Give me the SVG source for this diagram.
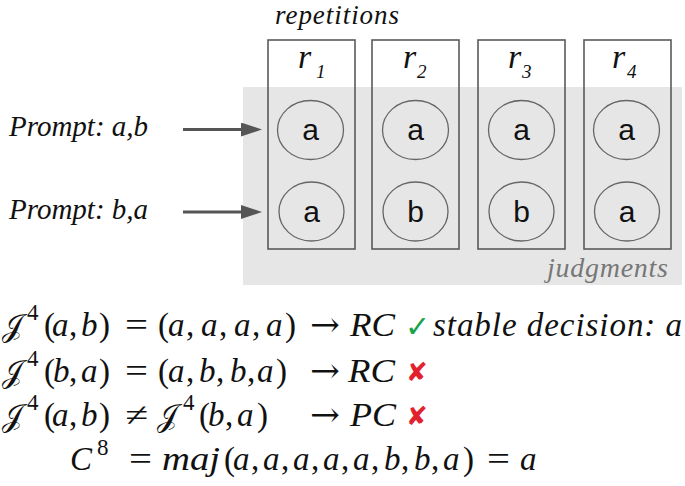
<svg xmlns="http://www.w3.org/2000/svg" width="685" height="486" viewBox="0 0 685 486">
<defs>
<style>
.lbl{font-family:"Liberation Serif","Tinos","Times New Roman","DejaVu Serif",serif;font-style:italic;fill:#111}
.box{fill:none;stroke:#5a5a5a;stroke-width:1.6}
.jd{fill:none;stroke:#666;stroke-width:1.3}
.jt{font-family:"Liberation Sans",Arial,sans-serif;font-size:30px;fill:#111;text-anchor:middle}
.conn{stroke:#555;stroke-width:3;fill:none}
.m{font-family:"Liberation Serif","Tinos","Times New Roman","DejaVu Serif",serif;font-size:33px;fill:#111}
.i{font-style:italic}
.ar{font-family:"DejaVu Serif","DejaVu Sans",serif;font-size:34px;fill:#111}
.sup{font-family:"Liberation Serif","Tinos","Times New Roman","DejaVu Serif",serif;font-size:23px;fill:#111}
.scr{font-family:"DejaVu Serif","DejaVu Sans","Noto Sans",serif;font-size:30px;fill:#111}
.ok{font-family:"DejaVu Sans",sans-serif;font-size:30px;fill:#1aa34a}
.no{font-family:"DejaVu Sans",sans-serif;font-size:26px;fill:#e3202e}
</style>
<marker id="ah" markerUnits="userSpaceOnUse" markerWidth="22" markerHeight="14" refX="1" refY="7" orient="auto">
<path d="M0,0 L21,7 L0,14 z" fill="#555"/>
</marker>
</defs>
<rect width="685" height="486" fill="#fff"/>
<rect id="judgments-band" x="243" y="87" width="439" height="198" fill="#e6e6e6"/>
<text class="lbl" x="275" y="24" font-size="27" textLength="124" lengthAdjust="spacing">repetitions</text>
<text class="lbl" x="547" y="277" font-size="28" style="fill:#777" textLength="121" lengthAdjust="spacing">judgments</text>

<g id="prompt-ab"><text class="lbl" x="9" y="136" font-size="29" textLength="139" lengthAdjust="spacing">Prompt: a,b</text></g>
<g id="prompt-ba"><text class="lbl" x="9" y="219" font-size="29" textLength="139" lengthAdjust="spacing">Prompt: b,a</text></g>

<g id="r1">
<rect class="box" x="268" y="40" width="87" height="209"/>
<text class="lbl" x="298" y="68" font-size="34">r</text><text class="lbl" x="316" y="78" font-size="19">1</text>
<ellipse class="jd" cx="310.5" cy="130" rx="33" ry="29.5"/><text class="jt" x="310.5" y="140">a</text>
<ellipse class="jd" cx="311.5" cy="211.5" rx="32.5" ry="29.5"/><text class="jt" x="311.5" y="222">a</text>
</g>
<g id="r2">
<rect class="box" x="372" y="40" width="87" height="209"/>
<text class="lbl" x="403" y="68" font-size="34">r</text><text class="lbl" x="417" y="78" font-size="19">2</text>
<ellipse class="jd" cx="415.5" cy="130" rx="33" ry="29.5"/><text class="jt" x="415.5" y="140">a</text>
<ellipse class="jd" cx="415.5" cy="211.5" rx="32.5" ry="29.5"/><text class="jt" x="415.5" y="222">b</text>
</g>
<g id="r3">
<rect class="box" x="478" y="40" width="87" height="209"/>
<text class="lbl" x="508" y="68" font-size="34">r</text><text class="lbl" x="522" y="78" font-size="19">3</text>
<ellipse class="jd" cx="521.5" cy="130" rx="33" ry="29.5"/><text class="jt" x="521.5" y="140">a</text>
<ellipse class="jd" cx="521.5" cy="211.5" rx="32.5" ry="29.5"/><text class="jt" x="521.5" y="222">b</text>
</g>
<g id="r4">
<rect class="box" x="584" y="40" width="87" height="209"/>
<text class="lbl" x="612" y="68" font-size="34">r</text><text class="lbl" x="627" y="78" font-size="19">4</text>
<ellipse class="jd" cx="626.5" cy="130" rx="33" ry="29.5"/><text class="jt" x="626.5" y="140">a</text>
<ellipse class="jd" cx="627" cy="211.5" rx="32.5" ry="29.5"/><text class="jt" x="627" y="222">a</text>
</g>

<g id="connectors">
<line class="conn" x1="183" y1="129.5" x2="242" y2="129.5" marker-end="url(#ah)"/>
<line class="conn" x1="183" y1="212" x2="242" y2="212" marker-end="url(#ah)"/>
</g>

<g id="eq1">
<text class="scr" x="2" y="336">𝒥</text>
<text class="sup" x="27" y="320">4</text>
<text class="m" y="336"><tspan x="44">(</tspan><tspan class="i" x="52">a</tspan><tspan x="69">,</tspan><tspan class="i" x="81">b</tspan><tspan x="99">)</tspan></text>
<text class="m" x="125" y="336" textLength="23" lengthAdjust="spacingAndGlyphs">=</text>
<text class="m" y="336"><tspan x="158">(</tspan><tspan class="i" x="168">a</tspan><tspan x="186">,</tspan><tspan class="i" x="201">a</tspan><tspan x="219">,</tspan><tspan class="i" x="234">a</tspan><tspan x="252">,</tspan><tspan class="i" x="266">a</tspan><tspan x="285">)</tspan></text>
<text class="ar" x="310" y="336" textLength="30" lengthAdjust="spacingAndGlyphs">→</text>
<text class="m i" x="350" y="336" textLength="45" lengthAdjust="spacingAndGlyphs">RC</text>
<text class="ok" x="405" y="337">✓</text>
<text class="m i" x="433" y="336" font-size="34" textLength="249" lengthAdjust="spacing">stable decision: a</text>
</g>

<g id="eq2">
<text class="scr" x="2" y="382">𝒥</text>
<text class="sup" x="27" y="366">4</text>
<text class="m" y="382"><tspan x="44">(</tspan><tspan class="i" x="53">b</tspan><tspan x="69">,</tspan><tspan class="i" x="81">a</tspan><tspan x="99">)</tspan></text>
<text class="m" x="125" y="382" textLength="23" lengthAdjust="spacingAndGlyphs">=</text>
<text class="m" y="382"><tspan x="158">(</tspan><tspan class="i" x="168">a</tspan><tspan x="186">,</tspan><tspan class="i" x="199">b</tspan><tspan x="216">,</tspan><tspan class="i" x="230">b</tspan><tspan x="247">,</tspan><tspan class="i" x="257">a</tspan><tspan x="276">)</tspan></text>
<text class="ar" x="310" y="382" textLength="30" lengthAdjust="spacingAndGlyphs">→</text>
<text class="m i" x="348" y="382" textLength="47" lengthAdjust="spacingAndGlyphs">RC</text>
<text class="no" x="406" y="381">✘</text>
</g>

<g id="eq3">
<text class="scr" x="2" y="426">𝒥</text>
<text class="sup" x="27" y="410">4</text>
<text class="m" y="426"><tspan x="44">(</tspan><tspan class="i" x="52">a</tspan><tspan x="69">,</tspan><tspan class="i" x="81">b</tspan><tspan x="99">)</tspan></text>
<text class="m" x="125" y="426" textLength="23" lengthAdjust="spacingAndGlyphs">≠</text>
<text class="scr" x="157" y="426">𝒥</text>
<text class="sup" x="183" y="410">4</text>
<text class="m" y="426"><tspan x="199">(</tspan><tspan class="i" x="208">b</tspan><tspan x="225">,</tspan><tspan class="i" x="237">a</tspan><tspan x="257">)</tspan></text>
<text class="ar" x="310" y="426" textLength="30" lengthAdjust="spacingAndGlyphs">→</text>
<text class="m i" x="350" y="426" textLength="46" lengthAdjust="spacingAndGlyphs">PC</text>
<text class="no" x="406" y="425">✘</text>
</g>

<g id="eq4">
<text class="m i" x="70" y="470" font-size="36">C</text>
<text class="sup" x="97" y="455">8</text>
<text class="m" x="129" y="470" textLength="23" lengthAdjust="spacingAndGlyphs">=</text>
<text class="m i" x="162" y="470" font-size="37" textLength="58" lengthAdjust="spacingAndGlyphs">maj</text>
<text class="m" y="470"><tspan x="224">(</tspan><tspan class="i" x="233">a</tspan><tspan x="251">,</tspan><tspan class="i" x="263">a</tspan><tspan x="281">,</tspan><tspan class="i" x="293">a</tspan><tspan x="311">,</tspan><tspan class="i" x="323">a</tspan><tspan x="341">,</tspan><tspan class="i" x="353">a</tspan><tspan x="371">,</tspan><tspan class="i" x="384">b</tspan><tspan x="401">,</tspan><tspan class="i" x="414">b</tspan><tspan x="431">,</tspan><tspan class="i" x="443">a</tspan><tspan x="463">)</tspan></text>
<text class="m" x="487" y="470" textLength="23" lengthAdjust="spacingAndGlyphs">=</text>
<text class="m i" x="520" y="470">a</text>
</g>
</svg>
